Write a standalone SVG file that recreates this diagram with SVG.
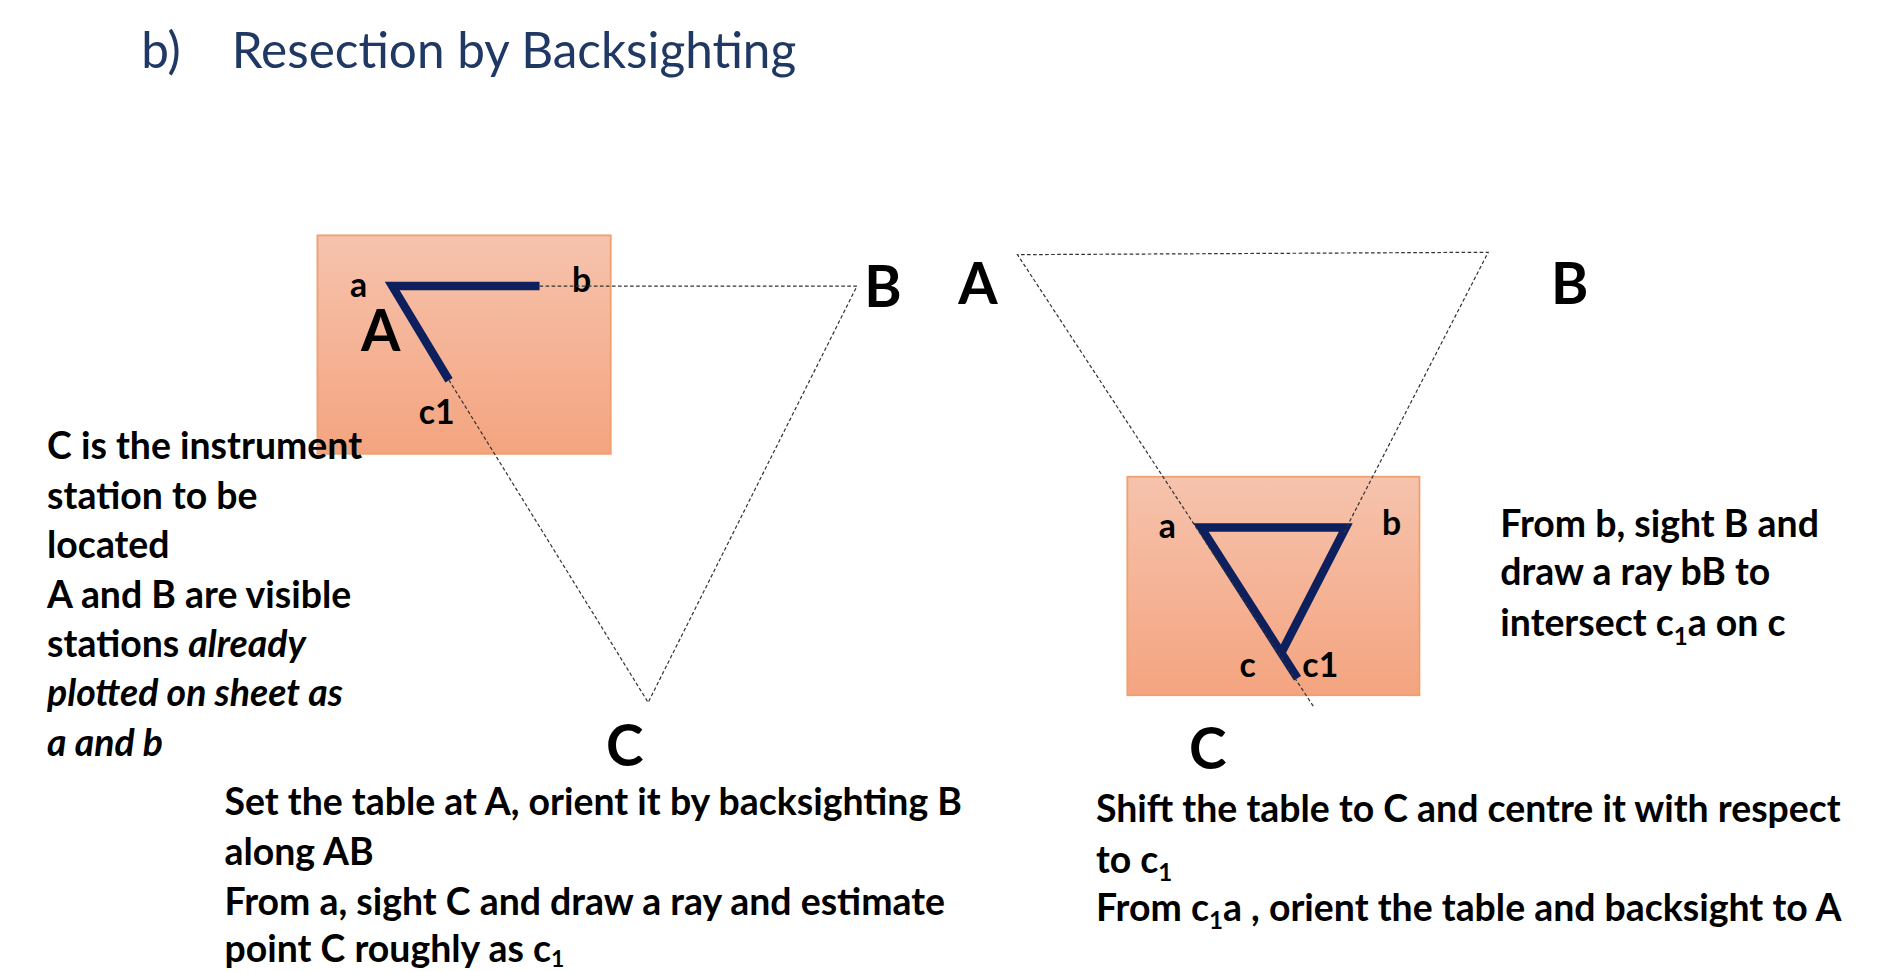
<svg xmlns="http://www.w3.org/2000/svg" width="1892" height="972" viewBox="0 0 1892 972">
<style>
.t{font-family:Lato,"Open Sans",sans-serif;font-weight:bold;font-size:31px;fill:#000}
.L{font-family:Lato,"Open Sans",sans-serif;font-weight:bold;font-size:47px;fill:#000}
.s{font-family:Lato,"Open Sans",sans-serif;font-weight:bold;font-size:28px;fill:#000}
.thick{stroke:#0d1f5c;stroke-width:7;fill:none;stroke-linejoin:miter}
.dot{stroke:#333;stroke-width:1;stroke-dasharray:3,2;fill:none}
.tab{fill:url(#g);stroke:#f0a070;stroke-width:1.5}
</style>
<defs><linearGradient id="g" x1="0" y1="0" x2="0" y2="1"><stop offset="0" stop-color="#f6c3ad"/><stop offset="1" stop-color="#f4a47f"/></linearGradient></defs>
<rect width="1892" height="972" fill="#fff"/>
<g transform="scale(1.207)">
<g id="title"><text x="117" y="56" font-family="Lato,'Open Sans',sans-serif" font-size="41" fill="#1f3864">b)</text><text x="192" y="56" font-family="Lato,'Open Sans',sans-serif" font-size="41" fill="#1f3864">Resection by Backsighting</text></g>
<g id="table1"><rect class="tab" x="263" y="195" width="243" height="181"/>
<path class="thick" d="M447,237H325L372,315"/>
<text class="s" x="290" y="246">a</text><text class="s" x="474" y="242">b</text><text class="L" x="299" y="291">A</text><text class="s" x="347" y="351">c1</text></g>
<g id="table2"><rect class="tab" x="934" y="395" width="242" height="181"/>
<path class="thick" d="M1075,562L995,437H1115L1062,540"/>
<text class="s" x="960" y="446">a</text><text class="s" x="1145" y="443">b</text><text class="s" x="1027" y="561">c</text><text class="s" x="1079" y="561">c1</text></g>
<g id="connectors">
<path class="dot" d="M447,237H710L537,582L372,315"/>
<path class="dot" d="M1088,585L843,211L1233,209L1113,442"/>
</g>
<g id="stations"><text class="L" x="716" y="254">B</text><text class="L" x="502" y="635">C</text><text class="L" x="794" y="252">A</text><text class="L" x="1285" y="252">B</text><text class="L" x="985" y="637">C</text></g>
<g id="text1"><text class="t" x="39" y="380">C is the instrument</text><text class="t" x="39" y="422">station to be</text><text class="t" x="39" y="462">located</text><text class="t" x="39" y="504">A and B are visible</text><text class="t" x="39" y="544">stations <tspan font-style="italic">already</tspan></text><text class="t" x="39" y="585" font-style="italic">plotted on sheet as</text><text class="t" x="39" y="626" font-style="italic">a and b</text></g>
<g id="text2"><text class="t" x="186" y="675">Set the table at A, orient it by backsighting B</text><text class="t" x="186" y="717">along AB</text><text class="t" x="186" y="758">From a, sight C and draw a ray and estimate</text><text class="t" x="186" y="797">point C roughly as c<tspan font-size="19" dy="4">1</tspan></text></g>
<g id="text3"><text class="t" x="1243" y="445">From b, sight B and</text><text class="t" x="1243" y="485">draw a ray bB to</text><text class="t" x="1243" y="527">intersect c<tspan font-size="20" dy="7">1</tspan><tspan dy="-7">a on c</tspan></text></g>
<g id="text4"><text class="t" x="908" y="681">Shift the table to C and centre it with respect</text><text class="t" x="908" y="723">to c<tspan font-size="20" dy="7">1</tspan></text><text class="t" x="908" y="763">From c<tspan font-size="20" dy="7">1</tspan><tspan dy="-7">a , orient the table and backsight to A</tspan></text></g>
</g>
</svg>
